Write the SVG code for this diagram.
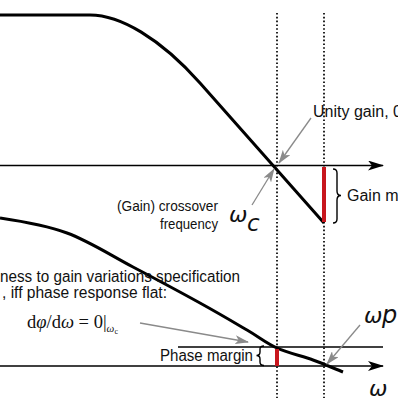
<svg xmlns="http://www.w3.org/2000/svg" width="398" height="398" viewBox="0 0 398 398">
<style>
.curve{fill:none;stroke:#000;stroke-width:3;stroke-linejoin:round}
.axis{fill:none;stroke:#000;stroke-width:1.4}
.dot{fill:none;stroke:#000;stroke-width:1.7;stroke-dasharray:1.6 2.2}
.red{fill:none;stroke:#c8161d;stroke-width:4}
.brace{fill:none;stroke:#000;stroke-width:1.4}
.garrow{fill:none;stroke:#8a8a8a;stroke-width:1.3}
.lbl{font-family:"Liberation Sans",Arial,sans-serif;font-size:16px;fill:#111}
.sm{font-family:"Liberation Sans",Arial,sans-serif;font-size:14px;fill:#111}
.big{font-family:"Liberation Sans",Arial,sans-serif;font-size:16px;fill:#111}
.om{font-family:"DejaVu Sans",sans-serif;font-style:italic;font-size:22px;fill:#111}
.math{font-family:"Liberation Serif","Times New Roman",serif;font-size:18.5px;fill:#111}
</style>
<defs>
<marker id="ah" viewBox="0 0 16 10" refX="15" refY="5" markerWidth="16" markerHeight="10" markerUnits="userSpaceOnUse" orient="auto">
<path d="M0,0 L16,5 L0,10 L4,5 Z" fill="#000"/>
</marker>
<marker id="gah" viewBox="0 0 14 9" refX="13" refY="4.5" markerWidth="14" markerHeight="9" markerUnits="userSpaceOnUse" orient="auto">
<path d="M0,0 L14,4.5 L0,9 L3.5,4.5 Z" fill="#8a8a8a"/>
</marker>
</defs>
<g id="connectors">
<line class="dot" x1="277" y1="13" x2="277" y2="398"/>
<line class="dot" x1="324" y1="13" x2="324" y2="398"/>
<line class="axis" x1="0" y1="165.5" x2="383" y2="165.5" marker-end="url(#ah)"/>
<line class="axis" x1="0" y1="366" x2="383" y2="366" marker-end="url(#ah)" stroke="#333"/>
<line class="axis" x1="178" y1="347" x2="383" y2="347" stroke-width="1.1"/>
<path class="curve" d="M0,15 L90,15 C120,15 160,38 200,83 L324,223"/>
<path class="curve" d="M0,218 C22.3,221.3 44.8,224.8 67,233 C89.2,241.2 110.8,255.3 133,267 C155.2,278.7 181,292.5 200,303 C219,313.5 234.2,322.5 247,330 C259.8,337.5 266,343 277,348 C288,353 302,356 313,360 C324,364 333,368 343,372"/>
<line class="red" x1="324" y1="167" x2="324" y2="222"/>
<line class="red" x1="277" y1="349" x2="277" y2="366"/>
<path class="brace" d="M333,169 Q337,169 337,173 L337,191 Q337,195.5 341,195.5 Q337,195.5 337,200 L337,219 Q337,223 333,223"/>
<path class="brace" d="M264,346 Q260,346 260,349 L260,352 Q260,355.5 256.5,355.5 Q260,355.5 260,359 L260,362 Q260,365.5 264,365.5"/>
<line class="garrow" x1="311" y1="118" x2="279" y2="163" marker-end="url(#gah)"/>
<line class="garrow" x1="252" y1="205" x2="274" y2="169" marker-end="url(#gah)"/>
<line class="garrow" x1="140" y1="323" x2="248" y2="342" marker-end="url(#gah)"/>
<line class="garrow" x1="360" y1="325" x2="327" y2="364" marker-end="url(#gah)"/>
</g>
<g id="unity-gain"><text class="lbl" x="313" y="117">Unity gain, 0</text></g>
<g id="gain-margin"><text class="lbl" x="347" y="201">Gain ma</text></g>
<g id="crossover">
<text class="sm" x="117" y="211" textLength="101" lengthAdjust="spacingAndGlyphs">(Gain) crossover</text>
<text class="sm" x="160" y="229" textLength="58" lengthAdjust="spacingAndGlyphs">frequency</text>
</g>
<g id="omega-c"><text class="om" x="229" y="222">ω<tspan x="247" dy="9" font-size="23">c</tspan></text></g>
<g id="robustness">
<text class="big" x="0" y="282" textLength="240" lengthAdjust="spacingAndGlyphs">ness to gain variations specification</text>
<text class="big" x="2" y="298" textLength="165" lengthAdjust="spacingAndGlyphs">, iff phase response flat:</text>
</g>
<g id="formula"><text class="math" x="27" y="328">d<tspan font-style="italic">φ</tspan>/d<tspan font-style="italic">ω</tspan> = 0|<tspan font-size="11" dy="4" font-style="italic">ω</tspan><tspan font-size="8" dy="1.5">c</tspan></text></g>
<g id="phase-margin"><text class="lbl" x="160" y="361" font-size="15" textLength="93" lengthAdjust="spacingAndGlyphs">Phase margin</text></g>
<g id="omega-p"><text class="om" x="364" y="323">ω<tspan x="382" font-size="24">p</tspan></text></g>
<g id="omega"><text class="om" x="369" y="396">ω</text></g>
</svg>
